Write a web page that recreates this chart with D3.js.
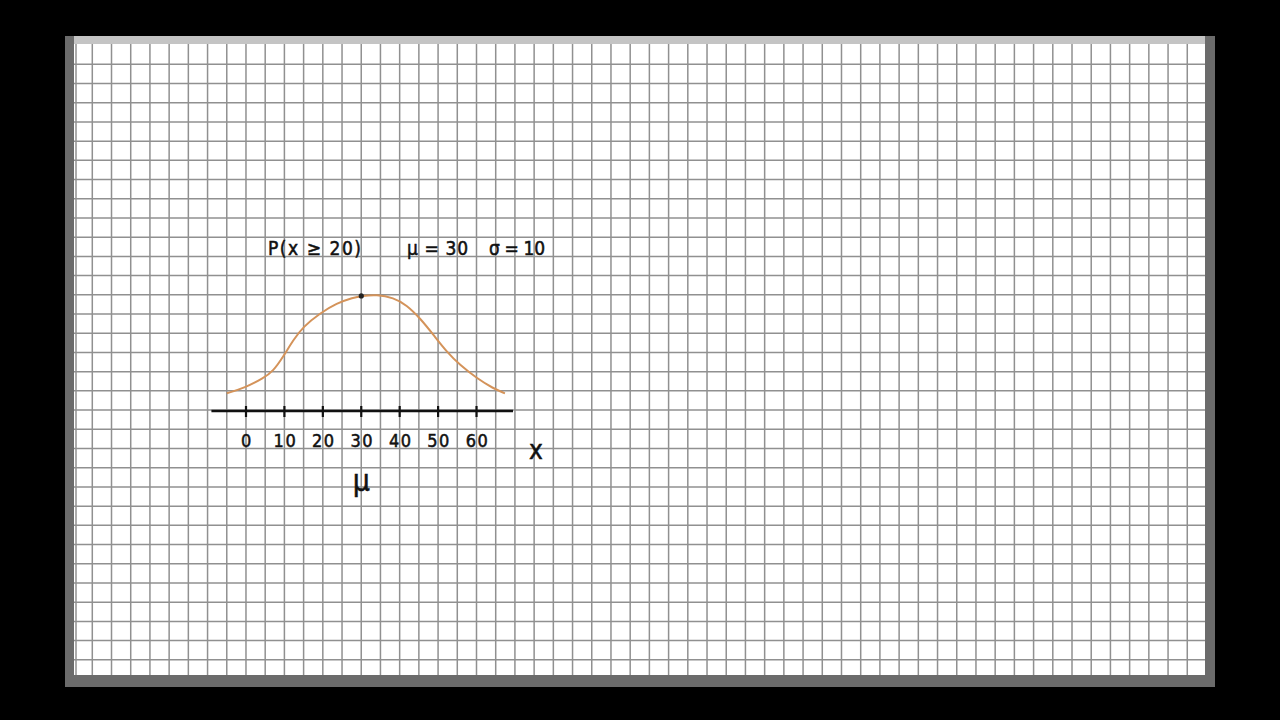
<!DOCTYPE html>
<html><head><meta charset="utf-8">
<script src="https://cdn.jsdelivr.net/npm/d3@7"></script>
<style>
html,body{margin:0;padding:0;background:#000;}
svg{display:block;}
</style></head>
<body>
<svg id="chart" width="1280" height="720"></svg>
<script>
// ---- data ----
const tickValues = [0, 10, 20, 30, 40, 50, 60];
const tickLabels = ["0", "10", "20", "30", "40", "50", "60"];
// hand-drawn bell curve, x in data units, y in grid cells above the axis
const curveX = [-5.0, -0.3, 4.5, 7.1, 9.7, 12.3, 14.9, 19.3, 23.6, 27.9, 30.1, 34.0, 38.4, 41.8, 45.3, 48.8, 52.2, 55.7, 60.1, 64.3, 67.4];
const curveY = [0.92, 1.21, 1.70, 2.08, 2.83, 3.70, 4.39, 5.09, 5.61, 5.90, 5.99, 6.06, 5.90, 5.52, 4.83, 3.96, 3.09, 2.39, 1.70, 1.18, 0.92];
const meanValue = [30];
const meanHeight = [5.99];
const titleText = "P(x \u2265 20)";
const muText = "\u00b5 = 30";
const sigmaText = "\u03c3 = 10";

const svg = d3.select("#chart");
const cell = 19.21;

// frame
svg.append("rect").attr("x", 65).attr("y", 36).attr("width", 1150).attr("height", 651).attr("fill", "#6b6b6b");
svg.append("rect").attr("x", 74).attr("y", 36).attr("width", 1131).attr("height", 8).attr("fill", "#c4c4c4");
svg.append("rect").attr("x", 74).attr("y", 44).attr("width", 1131).attr("height", 631).attr("fill", "#ffffff");

// grid paper
const gx = d3.scaleLinear().domain([0, 1]).range([92.3, 92.3 + cell]);
const gy = d3.scaleLinear().domain([0, 1]).range([64.3, 64.3 + cell]);
const grid = svg.append("g").attr("stroke", "#909090").attr("stroke-width", 1.5);
grid.selectAll("line.v").data(d3.range(0, 58)).join("line")
  .attr("x1", d => gx(d)).attr("x2", d => gx(d)).attr("y1", 44).attr("y2", 675);
grid.selectAll("line.h").data(d3.range(0, 32)).join("line")
  .attr("y1", d => gy(d)).attr("y2", d => gy(d)).attr("x1", 74).attr("x2", 1205);
grid.append("line").attr("x1", 76).attr("x2", 76).attr("y1", 44).attr("y2", 675);

// scales
const x = d3.scaleLinear().domain([0, 60]).range([246, 246 + 6 * 2 * cell]);
const y = d3.scaleLinear().domain([0, 6]).range([411, 411 - 6 * cell]);

const font = "'DejaVu Sans Condensed', 'DejaVu Sans', sans-serif";
function ink(sel) { return sel.attr("fill", "#111").attr("stroke", "#111").attr("stroke-width", 0.5).attr("font-family", font); }

// axis
const axis = svg.append("g");
axis.append("line").attr("x1", x(-9)).attr("x2", x(69.5)).attr("y1", y(0)).attr("y2", y(0))
  .attr("stroke", "#111").attr("stroke-width", 2.6);
axis.selectAll("line.tick").data(tickValues).join("line")
  .attr("x1", d => x(d)).attr("x2", d => x(d)).attr("y1", y(0) - 5).attr("y2", y(0) + 6)
  .attr("stroke", "#111").attr("stroke-width", 2.2);
ink(axis.selectAll("text.tl").data(tickValues).join("text")
  .attr("x", d => x(d) + 1).attr("y", y(0) + 36)
  .attr("text-anchor", "middle").attr("font-size", 18).attr("letter-spacing", 1.5)
  .text((d, i) => tickLabels[i]));
ink(svg.append("text").attr("x", 536).attr("y", 459).attr("text-anchor", "middle")
  .attr("font-size", 26).text("x"));
ink(svg.append("text").attr("x", x(meanValue[0])).attr("y", 491).attr("text-anchor", "middle")
  .attr("font-size", 30).text("\u00b5"));

// curve
const pts = curveX.map((v, i) => [v, curveY[i]]);
svg.append("path").datum(pts)
  .attr("d", d3.line().x(d => x(d[0])).y(d => y(d[1])).curve(d3.curveBasis))
  .attr("fill", "none").attr("stroke", "#d4935a").attr("stroke-width", 2);
svg.selectAll("circle.mean").data(meanValue).join("circle")
  .attr("cx", d => x(d)).attr("cy", (d, i) => y(meanHeight[i])).attr("r", 2.6).attr("fill", "#222");

// titles
function txt(s, xx, yy, len) {
  return ink(svg.append("text").attr("x", xx).attr("y", yy).attr("font-size", 19)
    .attr("textLength", len).attr("lengthAdjust", "spacing").text(s));
}
txt(titleText, 268, 255, 93);
txt(muText, 407, 255, 61);
txt(sigmaText, 489, 255, 56);
</script>
</body></html>
